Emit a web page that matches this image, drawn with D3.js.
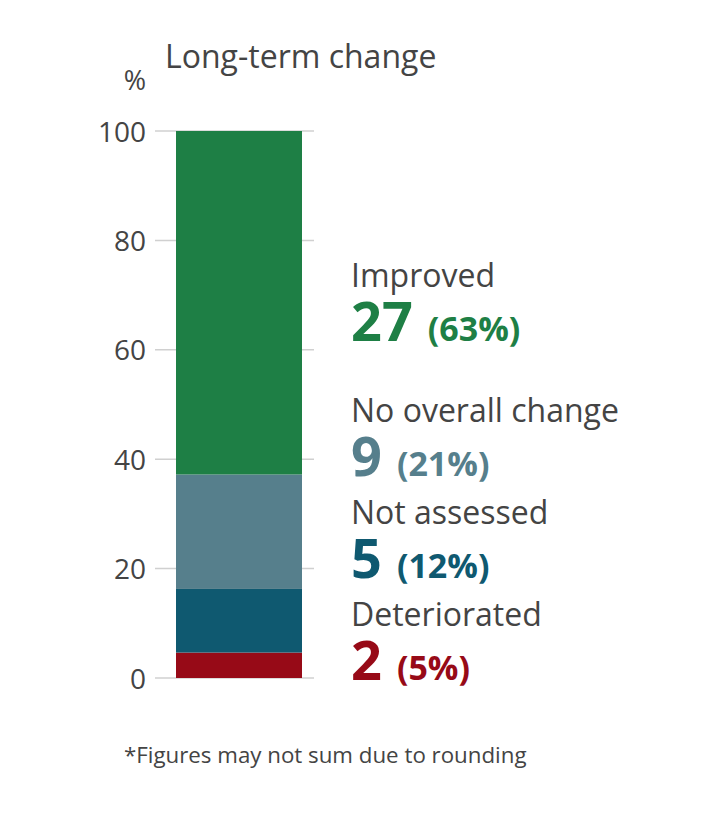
<!DOCTYPE html>
<html>
<head>
<meta charset="utf-8">
<script src="https://cdn.jsdelivr.net/npm/d3@7"></script>
<style>
  body { margin: 0; background: #fff; }
  svg text { font-family: "Open Sans", sans-serif; }
</style>
</head>
<body>
<div id="canvas"></div>
<script>
// Datos
const categories = ["Deteriorated", "Not assessed", "No overall change", "Improved"];
const counts = [2, 5, 9, 27];
const percentLabels = ["5%", "12%", "21%", "63%"];
const colors = ["#970a17", "#0f5970", "#567f8c", "#1e7f45"];
const yTicks = [0, 20, 40, 60, 80, 100];

const width = 702;
const height = 816;

const svg = d3.select("#canvas")
  .append("svg")
  .attr("width", width)
  .attr("height", height);

const y = d3.scaleLinear().domain([0, 100]).range([678, 131]);
const x = d3.scaleBand().domain(["bar"]).range([176, 302]);

const total = d3.sum(counts);
let acc = 0;
const stacked = counts.map((c, i) => {
  const d = { name: categories[i], count: c, pct: percentLabels[i], color: colors[i],
              y0: acc / total * 100, y1: (acc + c) / total * 100 };
  acc += c;
  return d;
});

// Gridlines
svg.append("g")
  .selectAll("line")
  .data(yTicks)
  .enter()
  .append("line")
  .attr("x1", 155)
  .attr("x2", 314)
  .attr("y1", d => y(d))
  .attr("y2", d => y(d))
  .attr("stroke", "#d0d0d0")
  .attr("stroke-width", 1.5);

// Axis
const yAxis = d3.axisLeft(y).tickValues(yTicks).tickSize(0).tickPadding(9);
const axisG = svg.append("g")
  .attr("transform", "translate(155,0)")
  .call(yAxis);
axisG.select(".domain").remove();
axisG.selectAll("text")
  .attr("fill", "#444")
  .style("font-size", "28px")
  .attr("dy", "0.36em");

// Bars
svg.append("g")
  .selectAll("rect")
  .data(stacked)
  .enter()
  .append("rect")
  .attr("x", x("bar"))
  .attr("width", x.bandwidth())
  .attr("y", d => y(d.y1))
  .attr("height", d => y(d.y0) - y(d.y1))
  .attr("fill", d => d.color);

// Title
svg.append("text")
  .attr("x", 165)
  .attr("y", 68)
  .attr("fill", "#444")
  .style("font-size", "32px")
  .text("Long-term change");

svg.append("text")
  .attr("x", 146)
  .attr("y", 90)
  .attr("text-anchor", "end")
  .attr("fill", "#444")
  .style("font-size", "27px")
  .text("%");

// Legend
const legendY = { "Improved": 287, "No overall change": 422, "Not assessed": 524, "Deteriorated": 626 };

const legend = svg.append("g")
  .selectAll("g")
  .data(stacked)
  .enter()
  .append("g")
  .attr("transform", d => `translate(351,${legendY[d.name]})`);

legend.append("text")
  .attr("fill", "#444")
  .style("font-size", "32px")
  .text(d => d.name);

const big = legend.append("text")
  .attr("y", 54)
  .attr("fill", d => d.color)
  .style("font-weight", "bold");
big.append("tspan")
  .style("font-size", "54px")
  .text(d => d.count);
big.append("tspan")
  .attr("dx", 15)
  .style("font-size", "34px")
  .text(d => `(${d.pct})`);

// Footnote
svg.append("text")
  .attr("x", 124)
  .attr("y", 763)
  .attr("fill", "#444")
  .style("font-size", "22.3px")
  .text("*Figures may not sum due to rounding");
</script>
</body>
</html>
